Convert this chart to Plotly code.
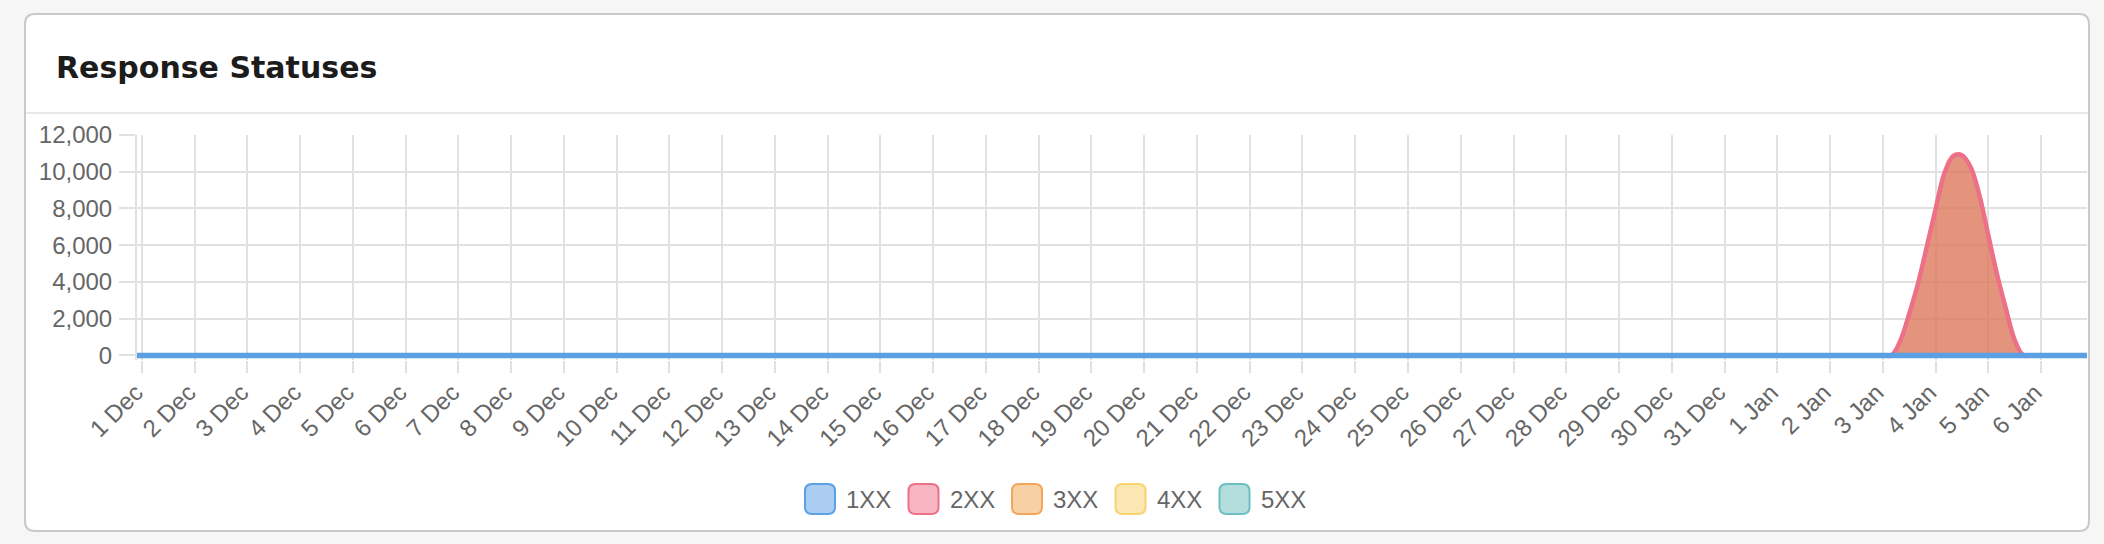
import plotly.graph_objects as go
import pandas as pd

# ---------------- data ----------------
series_names = ["1XX", "2XX", "3XX", "4XX", "5XX"]
line_colors = ["#5AA0E3", "#EC7087", "#F4A55A", "#F8D46E", "#6CC0C0"]
legend_fills = ["#ABCDF2", "#F8B5C2", "#F8D0A6", "#FBE7B2", "#B4DEDE"]

# whole-period samples (all zero for 1XX, 3XX, 4XX, 5XX)
period_times = list(pd.date_range("2023-11-30 21:45", "2024-01-06 20:55", freq="6h")) + [pd.Timestamp("2024-01-06 20:55")]
status_1xx = [0] * len(period_times)
status_3xx = [0] * len(period_times)
status_4xx = [0] * len(period_times)
status_5xx = [0] * len(period_times)

# 2XX burst
burst_times = ["2023-11-30 21:45", "2024-01-03 00:00",
               "2024-01-03 04:00", "2024-01-03 08:00", "2024-01-03 12:00", "2024-01-03 16:00",
               "2024-01-03 20:00", "2024-01-04 00:00", "2024-01-04 04:00", "2024-01-04 08:00",
               "2024-01-04 12:00", "2024-01-04 16:00", "2024-01-04 20:00", "2024-01-05 00:00",
               "2024-01-05 04:00", "2024-01-05 08:00", "2024-01-05 12:00", "2024-01-05 16:00",
               "2024-01-05 20:00", "2024-01-06 20:55"]
status_2xx = [0, 0,
              0, 800, 2250, 3900,
              5900, 7950, 9900, 10850,
              10900, 10250, 8700, 6550,
              4400, 2550, 850, 0,
              0, 0]

y_ticks = [0, 2000, 4000, 6000, 8000, 10000, 12000]
x_range = ["2023-11-30 21:45", "2024-01-06 20:55"]

# ---------------- layout geometry ----------------
W, H = 2104, 544
ML, MR, MT, MB = 137, 17, 135, 184
PW, PH = W - ML - MR, H - MT - MB

def X(px):
    return (px - ML) / PW

def Y(py):
    return (H - MB - py) / PH

def rr(x0, y0, x1, y1, r):
    return (f"M {X(x0 + r)},{Y(y0)} L {X(x1 - r)},{Y(y0)} Q {X(x1)},{Y(y0)} {X(x1)},{Y(y0 + r)} "
            f"L {X(x1)},{Y(y1 - r)} Q {X(x1)},{Y(y1)} {X(x1 - r)},{Y(y1)} "
            f"L {X(x0 + r)},{Y(y1)} Q {X(x0)},{Y(y1)} {X(x0)},{Y(y1 - r)} "
            f"L {X(x0)},{Y(y0 + r)} Q {X(x0)},{Y(y0)} {X(x0 + r)},{Y(y0)} Z")

GRID = "#e1e1e1"
FONT = "Liberation Sans, Arial, Helvetica, sans-serif"

fig = go.Figure()

zero_series = {"5XX": status_5xx, "4XX": status_4xx, "3XX": status_3xx}
for name in ["5XX", "4XX", "3XX"]:
    i = series_names.index(name)
    fig.add_trace(go.Scatter(x=period_times, y=zero_series[name], mode="lines", name=name,
                             line=dict(color=line_colors[i], width=4), showlegend=False,
                             hoverinfo="skip"))

fig.add_trace(go.Scatter(x=pd.to_datetime(burst_times), y=status_2xx, mode="lines", name="2XX",
                         line=dict(color=line_colors[1], width=4.5, shape="spline", smoothing=1),
                         fill="tozeroy", fillcolor="rgba(221,121,91,0.8)", showlegend=False))

fig.add_trace(go.Scatter(x=period_times, y=status_1xx, mode="lines", name="1XX",
                         line=dict(color=line_colors[0], width=5.5), showlegend=False))

shapes = []
# card
shapes.append(dict(type="path", xref="paper", yref="paper", path=rr(25, 14, 2089, 531, 10),
                   fillcolor="white", line=dict(color="#c9c9c9", width=2), layer="below"))
# header separator
shapes.append(dict(type="line", xref="paper", yref="paper", x0=X(26), x1=X(2088), y0=Y(113), y1=Y(113),
                   line=dict(color="#e8e8e8", width=2), layer="below"))

annotations = [dict(xref="paper", yref="paper", x=X(54), y=Y(67), xanchor="left", yanchor="middle",
                    text="<b>Response Statuses</b>", showarrow=False,
                    font=dict(family="DejaVu Sans, sans-serif", size=30, color="#1c1c1c"))]

# legend (manual, Chart.js style)
legend_x = [805, 908.5, 1012, 1115.5, 1219.5]
for i, name in enumerate(series_names):
    bx = legend_x[i]
    shapes.append(dict(type="path", xref="paper", yref="paper", path=rr(bx, 484, bx + 30, 514, 7),
                       fillcolor=legend_fills[i], line=dict(color=line_colors[i], width=2), layer="above"))
    annotations.append(dict(xref="paper", yref="paper", x=X(bx + 39), y=Y(499.5), xanchor="left",
                            yanchor="middle", text=name, showarrow=False,
                            font=dict(family=FONT, size=24, color="#666666")))

fig.update_layout(
    width=W, height=H,
    margin=dict(l=ML, r=MR, t=MT, b=MB, pad=0),
    paper_bgcolor="#f6f6f6", plot_bgcolor="white",
    showlegend=False,
    shapes=shapes, annotations=annotations,
    font=dict(family=FONT, size=24, color="#666666"),
    xaxis=dict(type="date", range=x_range, tick0="2023-12-01", dtick=86400000,
               tickformat="%-d %b", tickangle=-45, showgrid=True, gridcolor=GRID, gridwidth=2,
               ticks="outside", ticklen=12, tickwidth=2, tickcolor=GRID, zeroline=False,
               showline=False, ticklabelshift=-6, ticklabelstandoff=-4,
               tickfont=dict(size=24, color="#666666")),
    yaxis=dict(range=[-250, 12000], tickvals=y_ticks, tickformat=",", showgrid=True,
               gridcolor=GRID, gridwidth=2, ticks="outside", ticklen=16, tickwidth=2,
               tickcolor=GRID, zeroline=False, showline=True, linecolor=GRID, linewidth=2,
               ticklabelstandoff=2, tickfont=dict(size=24, color="#666666")),
)

fig.write_html("out.html", config={"displayModeBar": False},
               post_script="document.body.style.margin='0';document.body.style.background='#f6f6f6';document.body.style.overflow='hidden';")
